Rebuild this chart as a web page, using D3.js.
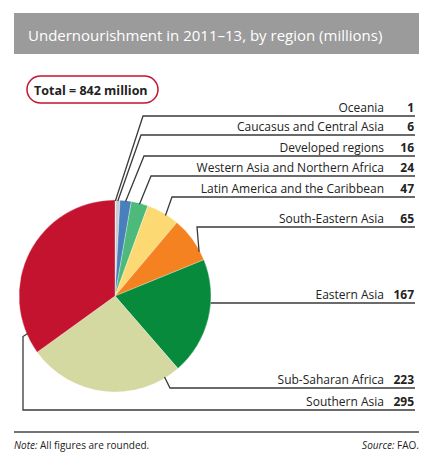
<!DOCTYPE html>
<html>
<head>
<meta charset="utf-8">
<script src="https://cdn.jsdelivr.net/npm/d3@7"></script>
<style>
  body { margin: 0; background: #fff; }
  svg { display: block; font-family: "Open Sans", sans-serif; }
</style>
</head>
<body>
<script>
// data, clockwise from 12 o'clock
var regions = ["Oceania", "Caucasus and Central Asia", "Developed regions",
  "Western Asia and Northern Africa", "Latin America and the Caribbean",
  "South-Eastern Asia", "Eastern Asia", "Sub-Saharan Africa", "Southern Asia"];
var values = [1, 6, 16, 24, 47, 65, 167, 223, 295];
var colors = ["#e4e6e8", "#c9cdd0", "#4a7fbd", "#4dba7c", "#fdd974",
  "#f58220", "#078a3c", "#d3d9a0", "#c3132f"];
var total = 842;

// label rows (layout only): y of the underline, corner x, where on slice the leader starts (0..1)
var rowY = [116, 135, 156, 176, 197, 227, 303, 388, 410];
var cornerX = [143, 141, 144, 151, 172, 197, null, 170, 23];
var attach = [0.5, 0.5, 0.5, 0.5, 0.6, 0.8, null, 0.1, 0.1];

var W = 444, H = 471;
var cx = 115, cy = 296, R = 96;
var lineEnd = 415;

var svg = d3.select("body").append("svg").attr("width", W).attr("height", H);

// title bar
svg.append("rect").attr("x", 14).attr("y", 13).attr("width", 405).attr("height", 41)
  .attr("fill", "#9b9b9b");
svg.append("text").attr("x", 28).attr("y", 41).attr("fill", "#fff")
  .attr("font-size", 15).text("Undernourishment in 2011\u201313, by region (millions)");

// total box
svg.append("rect").attr("x", 27).attr("y", 76).attr("width", 131).attr("height", 27)
  .attr("rx", 13.5).attr("fill", "#fff").attr("stroke", "#c3132f").attr("stroke-width", 1.5);
svg.append("text").attr("x", 34).attr("y", 94.5).attr("font-size", 12.5)
  .attr("font-weight", "bold").attr("fill", "#222").text("Total = " + total + " million");

var pie = d3.pie().sort(null).value(function(d) { return d; });
var arcs = pie(values);
var arc = d3.arc().innerRadius(0).outerRadius(R);

var g = svg.append("g").attr("transform", "translate(" + cx + "," + cy + ")");
g.selectAll("path").data(arcs).enter().append("path")
  .attr("d", arc)
  .attr("fill", function(d, i) { return colors[i]; })
  .attr("stroke", "#fff").attr("stroke-width", 0.3);

function edgePoint(a, r) {
  return [cx + r * Math.sin(a), cy - r * Math.cos(a)];
}

// leader lines
var lines = svg.append("g").attr("fill", "none").attr("stroke", "#3a3a3a").attr("stroke-width", 1.3);
arcs.forEach(function(d, i) {
  var y = rowY[i];
  var pts;
  if (cornerX[i] === null) {
    var x0 = cx + Math.sqrt(R * R - (y - cy) * (y - cy));
    pts = [[x0, y], [lineEnd, y]];
  } else {
    var a = d.startAngle + (d.endAngle - d.startAngle) * attach[i];
    var p = edgePoint(a, R - 1);
    if (i == 8) {
      pts = [p, [cornerX[i], p[1] + 3], [cornerX[i], y], [lineEnd, y]];
    } else {
      pts = [p, [cornerX[i], y], [lineEnd, y]];
    }
  }
  lines.append("path").attr("d", d3.line()(pts));
});

// labels
var labels = svg.append("g").attr("font-size", 12).attr("fill", "#222");
regions.forEach(function(name, i) {
  labels.append("text").attr("x", 384).attr("y", rowY[i] - 4)
    .attr("text-anchor", "end").text(name);
  labels.append("text").attr("x", 414).attr("y", rowY[i] - 4)
    .attr("text-anchor", "end").attr("font-weight", "bold").text(values[i]);
});

// footer
svg.append("line").attr("x1", 14).attr("x2", 419).attr("y1", 432).attr("y2", 432)
  .attr("stroke", "#444").attr("stroke-width", 1.5);
var note = svg.append("text").attr("x", 14).attr("y", 449).attr("font-size", 10).attr("fill", "#222");
note.append("tspan").attr("font-style", "italic").text("Note:");
note.append("tspan").text(" All figures are rounded.");
var src = svg.append("text").attr("x", 419).attr("y", 449).attr("font-size", 10)
  .attr("fill", "#222").attr("text-anchor", "end");
src.append("tspan").attr("font-style", "italic").text("Source:");
src.append("tspan").text(" FAO.");
</script>
</body>
</html>
